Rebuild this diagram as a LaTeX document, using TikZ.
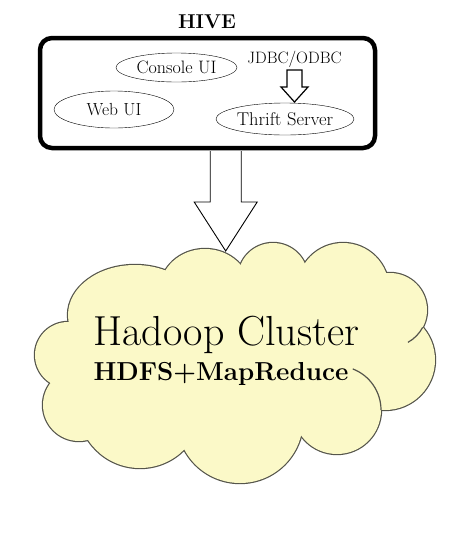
\documentclass[tikz,border=0pt]{standalone}
\usepackage{tikz}
\usetikzlibrary{shapes.geometric,calc}
\definecolor{cloudfill}{RGB}{251,249,200}
\definecolor{cloudline}{RGB}{85,85,75}
\begin{document}
\begin{tikzpicture}[x=1pt,y=-1pt]
    \tikzstyle{part}=[draw,ellipse,inner sep=0pt]
    \tikzstyle{blockarrow}=[draw=black,fill=white,line join=miter]
    \useasboundingbox (0,0) rectangle (476,550);
    % hive box
    \node [draw,line width=4.5,rounded corners=12,minimum width=335,minimum height=110] (hivebox) at (207.5,93) {};
    \node [font=\bfseries\fontsize{20}{24}\selectfont] (hive) at (207,22) {HIVE};
    \node [part,minimum width=121,minimum height=29,font=\fontsize{18}{20}\selectfont] (console) at (176.5,67.5) {Console UI};
    \node [part,minimum width=120,minimum height=37,font=\fontsize{17.5}{20}\selectfont] (webui) at (114,109.5) {Web UI};
    \node [part,minimum width=138,minimum height=32,font=\fontsize{18.5}{20}\selectfont] (thrift) at (285,119) {Thrift Server};
    \node [anchor=base,font=\fontsize{16.5}{18}\selectfont] (jdbc) at (294.5,63) {JDBC/ODBC};
    % cluster cloud
    \foreach \cx/\cy/\rx/\ry in {135/315/67/50,205/290/45/41,273/278/35/35,343/289/46/46,390/310/37/37,385/360/50/50,337/410/44/44,240/420/63/63,140/406/62/62,79/405/36/36,68/355/33/33}
        \draw [cloudline,line width=2.4] (\cx,\cy) ellipse ({\rx} and {\ry});
    \foreach \cx/\cy/\rx/\ry in {135/315/67/50,205/290/45/41,273/278/35/35,343/289/46/46,390/310/37/37,385/360/50/50,337/410/44/44,240/420/63/63,140/406/62/62,79/405/36/36,68/355/33/33}
        \fill [cloudfill] (\cx,\cy) ellipse ({\rx} and {\ry});
    \fill [cloudfill] (135,315) -- (205,290) -- (273,278) -- (343,289) -- (390,310) -- (385,360) -- (337,410) -- (240,420) -- (140,406) -- (79,405) -- (68,355) -- cycle;
    \draw [cloudline,line width=1.2] (390,310) ++(28:37) arc [start angle=28,end angle=61,radius=37];
    \draw [cloudline,line width=1.2] (337,410) ++(-69:44) arc [start angle=-69,end angle=0,radius=44];
    \node [anchor=base west,font=\fontsize{42}{46}\selectfont] (hadoop) at (90,345) {Hadoop Cluster};
    \node [anchor=base west,font=\bfseries\fontsize{26}{30}\selectfont] (hdfs) at (90,380) {HDFS+MapReduce};
    % arrows
    \coordinate (smalltail) at (294.5,70);
    \coordinate (smalltip) at (294.5,102);
    \draw [blockarrow,line width=1.2] ($(smalltail)+(-7.5,0)$) -- ($(smalltip)+(-7.5,-15)$) -- ($(smalltip)+(-13.5,-15)$) -- (smalltip) -- ($(smalltip)+(13.5,-15)$) -- ($(smalltip)+(7.5,-15)$) -- ($(smalltail)+(7.5,0)$) -- cycle;
    \coordinate (bigtail) at (225.7,151);
    \coordinate (bigtip) at (225.7,251);
    \draw [blockarrow,line width=0.9] ($(bigtail)+(-15.5,0)$) -- ($(bigtip)+(-15.5,-49)$) -- ($(bigtip)+(-31.5,-49)$) -- (bigtip) -- ($(bigtip)+(31.5,-49)$) -- ($(bigtip)+(15.5,-49)$) -- ($(bigtail)+(15.5,0)$);
\end{tikzpicture}
\end{document}
